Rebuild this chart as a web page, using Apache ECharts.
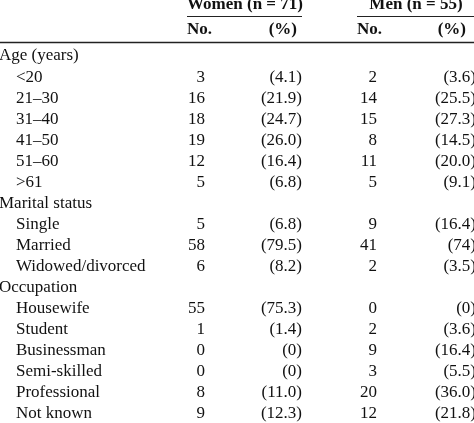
<!DOCTYPE html>
<html><head><meta charset="utf-8">
<script src="https://cdn.jsdelivr.net/npm/echarts@6/dist/echarts.min.js"></script>
<style>html,body{margin:0;padding:0;background:#fff}#c{width:474px;height:423px}</style>
</head><body><div id="c"></div>
<script>
const groupHeaders = ['Women (n = 71)', 'Men (n = 55)'];
const subHeaders = ['No.', '(%)', 'No.', '(%)'];
const rowLabels = ['Age (years)', '<20', '21–30', '31–40', '41–50', '51–60', '>61',
  'Marital status', 'Single', 'Married', 'Widowed/divorced',
  'Occupation', 'Housewife', 'Student', 'Businessman', 'Semi-skilled', 'Professional', 'Not known'];
const isGroup = [1,0,0,0,0,0,0,1,0,0,0,1,0,0,0,0,0,0];
const womenNo = [null,3,16,18,19,12,5,null,5,58,6,null,55,1,0,0,8,9];
const womenPct = [null,'(4.1)','(21.9)','(24.7)','(26.0)','(16.4)','(6.8)',null,'(6.8)','(79.5)','(8.2)',null,'(75.3)','(1.4)','(0)','(0)','(11.0)','(12.3)'];
const menNo = [null,2,14,15,8,11,5,null,9,41,2,null,0,2,9,3,20,12];
const menPct = [null,'(3.6)','(25.5)','(27.3)','(14.5)','(20.0)','(9.1)',null,'(16.4)','(74)','(3.5)',null,'(0)','(3.6)','(16.4)','(5.5)','(36.0)','(21.8)'];

const font = '"Liberation Serif","Times New Roman",serif';
const els = [];
function txt(x, y, s, align, bold) {
  els.push({type:'text', x, y, style:{text:String(s), font:(bold?'bold ':'')+'17px '+font, fill:'#111', textAlign:align, textVerticalAlign:'middle'}});
}
function line(x1,y1,x2,y2,w){ els.push({type:'line', shape:{x1,y1,x2,y2}, style:{stroke:'#222', lineWidth:w}}); }
txt(245, 5, groupHeaders[0], 'center', true);
txt(416, 5, groupHeaders[1], 'center', true);
line(187, 16.5, 302, 16.5, 1.2);
line(357, 16.5, 474, 16.5, 1.2);
txt(187, 30, subHeaders[0], 'left', true);
txt(297, 30, subHeaders[1], 'right', true);
txt(357, 30, subHeaders[2], 'left', true);
txt(466, 30, subHeaders[3], 'right', true);
line(0, 42.5, 474, 42.5, 1.5);
const y0 = 56, dy = 21.05;
rowLabels.forEach((lab, i) => {
  const y = y0 + i*dy;
  txt(isGroup[i] ? -1 : 16, y, lab, 'left', false);
  if (womenNo[i] !== null) txt(205, y, womenNo[i], 'right');
  if (womenPct[i] !== null) txt(302, y, womenPct[i], 'right');
  if (menNo[i] !== null) txt(377, y, menNo[i], 'right');
  if (menPct[i] !== null) txt(476, y, menPct[i], 'right');
});
const chart = echarts.init(document.getElementById('c'));
chart.setOption({animation:false, graphic:{elements:els}});
</script></body></html>
